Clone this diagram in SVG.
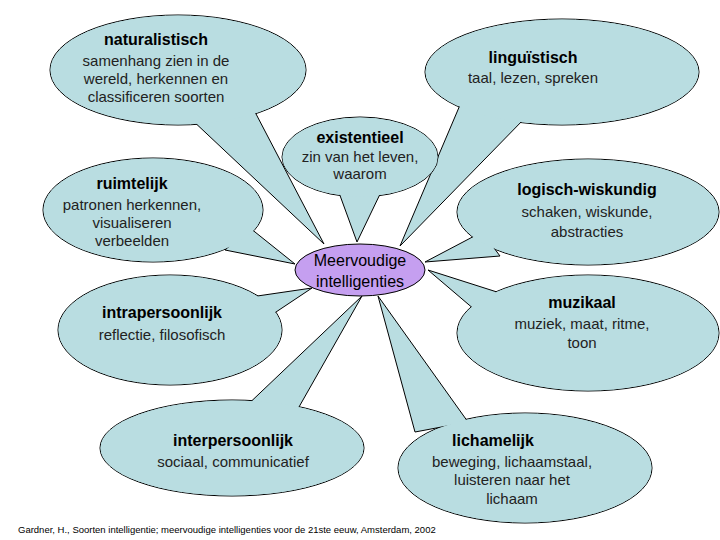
<svg xmlns="http://www.w3.org/2000/svg" width="720" height="540" viewBox="0 0 720 540">
<style>
.b{fill:#b9dde1;stroke:#000;stroke-width:1}
.f{fill:#b9dde1;stroke:none}
.t{font-family:"Liberation Sans",Arial,sans-serif;font-size:16px;font-weight:bold;fill:#000;text-anchor:middle}
.s{font-family:"Liberation Sans",Arial,sans-serif;font-size:15px;fill:#222;text-anchor:middle}
</style>
<rect width="720" height="540" fill="#fff"/>
<g id="naturalistisch">
<ellipse class="b" cx="178" cy="70" rx="128" ry="55"/>
<polygon class="b" points="190,118 255,112 324,244"/>
<ellipse class="f" cx="178" cy="70" rx="127.5" ry="54.5"/>
<text class="t" x="156" y="45">naturalistisch</text>
<text class="s" x="156" y="66">samenhang zien in de</text>
<text class="s" x="156" y="84">wereld, herkennen en</text>
<text class="s" x="156" y="102">classificeren soorten</text>
</g>
<g id="linguistisch">
<ellipse class="b" cx="562" cy="72" rx="137" ry="53"/>
<polygon class="b" points="460,105 525,118 400,246"/>
<ellipse class="f" cx="562" cy="72" rx="136.5" ry="52.5"/>
<text class="t" x="533" y="63">linguïstisch</text>
<text class="s" x="533" y="83">taal, lezen, spreken</text>
</g>
<g id="ruimtelijk">
<ellipse class="b" cx="153" cy="210" rx="110" ry="52"/>
<polygon class="b" points="250,228 225,250 295,264"/>
<ellipse class="f" cx="153" cy="210" rx="109.5" ry="51.5"/>
<text class="t" x="132" y="189">ruimtelijk</text>
<text class="s" x="132" y="210">patronen herkennen,</text>
<text class="s" x="132" y="228">visualiseren</text>
<text class="s" x="132" y="246">verbeelden</text>
</g>
<g id="existentieel">
<ellipse class="b" cx="360" cy="157" rx="78" ry="40"/>
<polygon class="b" points="338,190 382,190 357,242"/>
<ellipse class="f" cx="360" cy="157" rx="77.5" ry="39.5"/>
<text class="t" x="360" y="143">existentieel</text>
<text class="s" x="360" y="162">zin van het leven,</text>
<text class="s" x="360" y="179">waarom</text>
</g>
<g id="logisch">
<ellipse class="b" cx="588" cy="212" rx="131" ry="53"/>
<polygon class="b" points="482,232 500,256 425,262"/>
<ellipse class="f" cx="588" cy="212" rx="130.5" ry="52.5"/>
<text class="t" x="587" y="195">logisch-wiskundig</text>
<text class="s" x="587" y="217">schaken, wiskunde,</text>
<text class="s" x="587" y="237">abstracties</text>
</g>
<g id="intrapersoonlijk">
<ellipse class="b" cx="170" cy="330" rx="112" ry="55"/>
<polygon class="b" points="230,300 267,318 312,288"/>
<ellipse class="f" cx="170" cy="330" rx="111.5" ry="54.5"/>
<text class="t" x="162" y="318">intrapersoonlijk</text>
<text class="s" x="162" y="340">reflectie, filosofisch</text>
</g>
<g id="muzikaal">
<ellipse class="b" cx="588" cy="333" rx="131" ry="58"/>
<polygon class="b" points="497,292 475,310 428,270"/>
<ellipse class="f" cx="588" cy="333" rx="130.5" ry="57.5"/>
<text class="t" x="582" y="308">muzikaal</text>
<text class="s" x="582" y="329">muziek, maat, ritme,</text>
<text class="s" x="582" y="348">toon</text>
</g>
<g id="interpersoonlijk">
<ellipse class="b" cx="232" cy="448" rx="132" ry="48"/>
<polygon class="b" points="240,412 295,414 362,296"/>
<ellipse class="f" cx="232" cy="448" rx="131.5" ry="47.5"/>
<text class="t" x="233" y="446">interpersoonlijk</text>
<text class="s" x="233" y="467">sociaal, communicatief</text>
</g>
<g id="lichamelijk">
<ellipse class="b" cx="525" cy="468" rx="127" ry="55"/>
<polygon class="b" points="415,432 468,422 378,296"/>
<ellipse class="f" cx="525" cy="468" rx="126.5" ry="54.5"/>
<text class="t" x="493" y="446">lichamelijk</text>
<text class="s" x="512" y="467">beweging, lichaamstaal,</text>
<text class="s" x="512" y="485">luisteren naar het</text>
<text class="s" x="512" y="504">lichaam</text>
</g>
<g id="center">
<ellipse cx="360" cy="270" rx="65" ry="26" fill="#c59ff0" stroke="#000"/>
<text class="s" x="360" y="266" style="fill:#000;font-size:16px">Meervoudige</text>
<text class="s" x="360" y="287" style="fill:#000;font-size:16px">intelligenties</text>
</g>
<g id="connectors"></g>
<text x="18" y="533" font-family="Liberation Sans,Arial,sans-serif" font-size="9.5" fill="#000">Gardner, H., Soorten intelligentie; meervoudige intelligenties voor de 21ste eeuw, Amsterdam, 2002</text>
</svg>
